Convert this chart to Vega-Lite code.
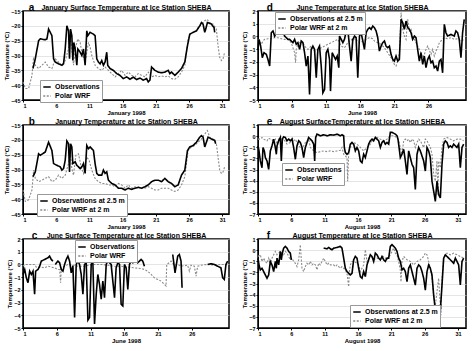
{
"$schema":"https://vega.github.io/schema/vega-lite/v6.json",
"background":"white",
"padding":{"left":2,"top":2,"right":2,"bottom":0},
"bounds":"flush",
"columns":2,
"spacing":{"row":25,"column":29},
"config":{
 "font":"Liberation Sans",
 "view":{"stroke":"black","strokeWidth":1.5},
 "axis":{"labelFont":"Liberation Sans","labelFontWeight":"bold","labelFontSize":5.5,"labelColor":"black","titleFont":"Liberation Sans","titleFontSize":6,"titleFontWeight":"bold","titleColor":"black","domainColor":"black","tickColor":"black","tickSize":2,"labelPadding":1,"titlePadding":1,"gridColor":"#d4d4d4","gridWidth":0.6,"labelOverlap":false},
 "axisX":{"grid":false},
 "legend":{"orient":"none","title":null,"strokeColor":"#999999","fillColor":"white","padding":2,"labelFont":"Liberation Sans","labelFontSize":7,"labelFontWeight":"bold","labelColor":"black","symbolType":"stroke","symbolSize":56,"symbolStrokeWidth":1.6,"rowPadding":0,"labelOffset":3,"cornerRadius":0},
 "title":{"font":"Liberation Sans","fontSize":10,"fontWeight":"bold","anchor":"start","color":"black","dx":25,"dy":14,"offset":0}
},
"resolve":{"scale":{"x":"independent","y":"independent","color":"independent","strokeDash":"independent"},"legend":{"color":"independent","strokeDash":"independent"},"axis":{"x":"independent","y":"independent"}},
"datasets":{
"aO":[{"d":2.5,"t":-34.4},{"d":2.85,"t":-31.1},{"d":3.35,"t":-25.0},{"d":3.6,"t":-24.4},{"d":4.35,"t":-24.7},{"d":4.6,"t":-24.4},{"d":4.85,"t":-21.1},{"d":5.35,"t":-23.3},{"d":5.6,"t":-31.1},{"d":5.85,"t":-32.2},{"d":6.35,"t":-32.8},{"d":6.85,"t":-33.3},{"d":7.1,"t":-32.8},{"d":7.35,"t":-27.8},{"d":7.6,"t":-20.0},{"d":7.85,"t":-21.7},{"d":8.0,"t":-31.1},{"d":8.15,"t":-21.1},{"d":8.35,"t":-23.3},{"d":8.5,"t":-31.7},{"d":8.65,"t":-25.6},{"d":8.85,"t":-27.8},{"d":9.1,"t":-33.3},{"d":9.25,"t":-27.8},{"d":9.6,"t":-28.9},{"d":9.85,"t":-30.0},{"d":10.1,"t":-27.8},{"d":10.35,"t":-33.3},{"d":10.6,"t":-21.7},{"d":10.75,"t":-23.3},{"d":11.1,"t":-22.2},{"d":11.6,"t":-22.8},{"d":11.85,"t":-23.3},{"d":12.1,"t":-31.1},{"d":12.35,"t":-32.2},{"d":12.6,"t":-32.8},{"d":12.85,"t":-31.7},{"d":13.1,"t":-33.3},{"d":13.35,"t":-32.2},{"d":13.6,"t":-28.9},{"d":13.75,"t":-33.3},{"d":14.1,"t":-34.4},{"d":14.6,"t":-35.0},{"d":15.1,"t":-36.1},{"d":15.6,"t":-36.7},{"d":16.1,"t":-37.8},{"d":16.6,"t":-37.2},{"d":17.1,"t":-38.0},{"d":17.6,"t":-37.3},{"d":18.1,"t":-38.1},{"d":18.6,"t":-37.6},{"d":19.1,"t":-38.3},{"d":19.6,"t":-37.8},{"d":19.85,"t":-38.9},{"d":20.1,"t":-38.3},{"d":20.35,"t":-33.9},{"d":20.85,"t":-35.0},{"d":21.35,"t":-35.6},{"d":21.85,"t":-35.8},{"d":22.35,"t":-35.6},{"d":22.85,"t":-35.0},{"d":23.1,"t":-36.1},{"d":23.35,"t":-35.6},{"d":23.85,"t":-36.7},{"d":24.35,"t":-35.6},{"d":24.85,"t":-34.4},{"d":25.35,"t":-32.2},{"d":25.75,"t":-26.7},{"d":26.1,"t":-22.8},{"d":26.6,"t":-22.2},{"d":27.1,"t":-21.7},{"d":27.6,"t":-20.0},{"d":27.85,"t":-18.9},{"d":28.1,"t":-19.4},{"d":28.35,"t":-22.2},{"d":28.5,"t":-21.1},{"d":28.75,"t":-18.9},{"d":29.1,"t":-19.1},{"d":29.35,"t":-19.4},{"d":29.75,"t":-20.6},{"d":29.85,"t":-22.2}],
"aW":[{"d":1.0,"t":-38.9},{"d":1.35,"t":-41.1},{"d":1.85,"t":-41.1},{"d":2.35,"t":-36.7},{"d":2.6,"t":-30.6},{"d":2.85,"t":-33.3},{"d":3.35,"t":-34.4},{"d":3.85,"t":-33.3},{"d":4.35,"t":-32.2},{"d":4.85,"t":-33.9},{"d":5.35,"t":-34.4},{"d":5.85,"t":-31.1},{"d":6.35,"t":-32.2},{"d":6.85,"t":-33.3},{"d":7.35,"t":-31.7},{"d":7.85,"t":-27.8},{"d":8.1,"t":-23.3},{"d":8.35,"t":-27.8},{"d":8.6,"t":-33.3},{"d":8.85,"t":-27.8},{"d":9.25,"t":-24.4},{"d":9.6,"t":-25.6},{"d":9.85,"t":-28.9},{"d":10.35,"t":-32.2},{"d":10.85,"t":-25.6},{"d":11.1,"t":-27.2},{"d":11.35,"t":-30.0},{"d":11.85,"t":-33.3},{"d":12.35,"t":-34.4},{"d":12.85,"t":-35.0},{"d":13.35,"t":-33.9},{"d":13.85,"t":-35.0},{"d":14.35,"t":-36.1},{"d":14.85,"t":-37.2},{"d":15.35,"t":-36.1},{"d":15.85,"t":-35.0},{"d":16.35,"t":-36.7},{"d":16.85,"t":-35.6},{"d":17.35,"t":-36.7},{"d":17.85,"t":-37.2},{"d":18.35,"t":-36.1},{"d":18.85,"t":-36.7},{"d":19.35,"t":-37.2},{"d":19.85,"t":-35.6},{"d":20.35,"t":-37.2},{"d":20.85,"t":-36.7},{"d":21.35,"t":-37.2},{"d":21.85,"t":-36.9},{"d":22.35,"t":-37.2},{"d":22.85,"t":-36.9},{"d":23.35,"t":-37.8},{"d":23.85,"t":-38.0},{"d":24.35,"t":-37.2},{"d":24.85,"t":-35.6},{"d":25.35,"t":-33.3},{"d":25.85,"t":-24.4},{"d":26.35,"t":-22.2},{"d":26.85,"t":-22.2},{"d":27.35,"t":-20.6},{"d":27.85,"t":-19.4},{"d":28.35,"t":-18.3},{"d":28.75,"t":-17.8},{"d":29.1,"t":-19.4},{"d":29.6,"t":-19.4},{"d":30.1,"t":-21.1},{"d":30.35,"t":-26.7},{"d":30.6,"t":-30.6},{"d":30.85,"t":-31.7},{"d":31.1,"t":-31.1},{"d":31.35,"t":-28.9}],
"bO":[{"d":2.5,"t":-32.4},{"d":2.85,"t":-30.8},{"d":3.35,"t":-24.7},{"d":3.6,"t":-25.2},{"d":4.35,"t":-24.1},{"d":4.85,"t":-20.8},{"d":5.35,"t":-23.6},{"d":5.6,"t":-28.0},{"d":6.1,"t":-28.6},{"d":6.6,"t":-29.1},{"d":6.85,"t":-30.2},{"d":7.1,"t":-29.7},{"d":7.35,"t":-26.9},{"d":7.6,"t":-20.4},{"d":7.85,"t":-21.3},{"d":8.0,"t":-30.8},{"d":8.15,"t":-21.3},{"d":8.35,"t":-22.4},{"d":8.5,"t":-28.0},{"d":8.85,"t":-27.4},{"d":9.1,"t":-28.6},{"d":9.35,"t":-29.1},{"d":9.6,"t":-29.7},{"d":9.85,"t":-29.1},{"d":10.1,"t":-28.0},{"d":10.35,"t":-31.3},{"d":10.6,"t":-21.9},{"d":10.85,"t":-23.0},{"d":11.1,"t":-22.4},{"d":11.6,"t":-23.6},{"d":11.85,"t":-28.0},{"d":12.1,"t":-31.3},{"d":12.35,"t":-31.9},{"d":12.85,"t":-31.9},{"d":13.1,"t":-30.2},{"d":13.35,"t":-31.3},{"d":13.6,"t":-30.8},{"d":13.85,"t":-33.6},{"d":14.35,"t":-34.7},{"d":14.85,"t":-35.2},{"d":15.35,"t":-36.3},{"d":15.85,"t":-36.3},{"d":16.35,"t":-36.9},{"d":16.85,"t":-36.3},{"d":17.35,"t":-36.7},{"d":17.85,"t":-36.3},{"d":18.35,"t":-36.0},{"d":18.85,"t":-36.3},{"d":19.35,"t":-35.8},{"d":19.85,"t":-35.2},{"d":20.35,"t":-34.1},{"d":20.85,"t":-33.6},{"d":21.35,"t":-33.6},{"d":21.85,"t":-34.1},{"d":22.35,"t":-33.0},{"d":22.85,"t":-34.1},{"d":23.35,"t":-34.7},{"d":23.85,"t":-35.8},{"d":24.35,"t":-35.2},{"d":24.85,"t":-31.9},{"d":25.35,"t":-30.2},{"d":25.75,"t":-23.6},{"d":26.1,"t":-22.4},{"d":26.6,"t":-21.9},{"d":27.1,"t":-20.8},{"d":27.6,"t":-19.1},{"d":27.85,"t":-18.6},{"d":28.1,"t":-19.1},{"d":28.35,"t":-22.4},{"d":28.6,"t":-20.8},{"d":28.85,"t":-19.1},{"d":29.35,"t":-19.7},{"d":29.85,"t":-20.2},{"d":30.0,"t":-21.3}],
"bW":[{"d":1.0,"t":-36.9},{"d":1.35,"t":-40.8},{"d":1.85,"t":-40.2},{"d":2.35,"t":-36.9},{"d":2.6,"t":-30.2},{"d":2.85,"t":-33.0},{"d":3.35,"t":-34.1},{"d":3.85,"t":-33.6},{"d":4.35,"t":-33.0},{"d":4.85,"t":-32.4},{"d":5.35,"t":-34.1},{"d":5.85,"t":-33.6},{"d":6.35,"t":-31.9},{"d":6.85,"t":-33.0},{"d":7.35,"t":-31.9},{"d":7.85,"t":-28.0},{"d":8.1,"t":-24.1},{"d":8.35,"t":-29.7},{"d":8.6,"t":-31.9},{"d":8.95,"t":-25.2},{"d":9.35,"t":-24.7},{"d":9.75,"t":-29.1},{"d":10.1,"t":-31.3},{"d":10.6,"t":-25.8},{"d":10.95,"t":-26.9},{"d":11.35,"t":-30.2},{"d":11.85,"t":-33.0},{"d":12.35,"t":-34.1},{"d":12.85,"t":-34.7},{"d":13.35,"t":-34.7},{"d":13.85,"t":-35.2},{"d":14.35,"t":-35.2},{"d":14.85,"t":-35.8},{"d":15.35,"t":-34.7},{"d":15.85,"t":-35.2},{"d":16.35,"t":-36.3},{"d":16.85,"t":-35.2},{"d":17.35,"t":-36.3},{"d":17.85,"t":-35.8},{"d":18.35,"t":-36.0},{"d":18.85,"t":-36.3},{"d":19.35,"t":-36.3},{"d":19.85,"t":-35.8},{"d":20.35,"t":-36.3},{"d":20.85,"t":-36.9},{"d":21.35,"t":-36.9},{"d":21.85,"t":-36.3},{"d":22.35,"t":-36.3},{"d":22.85,"t":-36.3},{"d":23.35,"t":-36.9},{"d":23.85,"t":-37.4},{"d":24.35,"t":-36.9},{"d":24.85,"t":-35.2},{"d":25.35,"t":-32.4},{"d":25.85,"t":-23.6},{"d":26.35,"t":-22.4},{"d":26.85,"t":-21.9},{"d":27.35,"t":-20.8},{"d":27.85,"t":-19.7},{"d":28.35,"t":-18.0},{"d":28.75,"t":-16.9},{"d":29.1,"t":-19.1},{"d":29.6,"t":-19.7},{"d":30.1,"t":-21.3},{"d":30.35,"t":-25.8},{"d":30.6,"t":-30.2},{"d":30.85,"t":-31.3},{"d":31.1,"t":-30.8},{"d":31.35,"t":-29.1}],
"cO":[{"d":1.0,"t":-0.79},{"d":1.25,"t":-0.4},{"d":1.49,"t":-1.05},{"d":1.74,"t":-1.44},{"d":1.99,"t":-0.53},{"d":2.23,"t":-0.79},{"d":2.48,"t":-0.53},{"d":2.72,"t":-2.35},{"d":2.87,"t":-0.53},{"d":3.22,"t":-0.4},{"d":3.46,"t":-0.14},{"d":3.71,"t":0.26},{"d":4.2,"t":0.39},{"d":4.69,"t":0.52},{"d":4.94,"t":0.65},{"d":5.19,"t":0.39},{"d":5.43,"t":0.26},{"d":5.6,"t":null},{"d":5.78,"t":0.0},{"d":6.17,"t":0.26},{"d":6.42,"t":0.13},{"d":6.67,"t":-0.4},{"d":6.91,"t":-0.53},{"d":7.16,"t":0.0},{"d":7.4,"t":0.39},{"d":7.65,"t":0.65},{"d":7.9,"t":0.26},{"d":8.14,"t":-0.66},{"d":8.39,"t":-0.1},{"d":8.64,"t":-4.17},{"d":8.88,"t":0.0},{"d":9.13,"t":0.26},{"d":9.37,"t":0.0},{"d":9.62,"t":-0.79},{"d":9.87,"t":-2.35},{"d":10.11,"t":0.0},{"d":10.36,"t":0.13},{"d":10.61,"t":-4.38},{"d":10.85,"t":-4.17},{"d":11.1,"t":0.0},{"d":11.34,"t":0.26},{"d":11.59,"t":-4.69},{"d":11.84,"t":-2.35},{"d":12.08,"t":-0.79},{"d":12.33,"t":-1.57},{"d":12.58,"t":-2.74},{"d":12.82,"t":-1.31},{"d":13.07,"t":-2.61},{"d":13.32,"t":0.0},{"d":13.56,"t":0.26},{"d":13.81,"t":0.13},{"d":14.05,"t":0.0},{"d":14.55,"t":-2.61},{"d":14.79,"t":-0.27},{"d":15.04,"t":0.13},{"d":15.29,"t":0.0},{"d":15.53,"t":-3.13},{"d":15.78,"t":-3.26},{"d":16.02,"t":0.0},{"d":16.27,"t":-0.27},{"d":16.52,"t":-1.96},{"d":16.76,"t":0.0},{"d":17.01,"t":0.26},{"d":17.26,"t":0.13},{"d":17.5,"t":0.31},{"d":17.75,"t":0.26},{"d":17.99,"t":0.13},{"d":18.49,"t":0.39},{"d":18.73,"t":0.26},{"d":18.98,"t":-0.14},{"d":19.2,"t":null},{"d":23.17,"t":0.78},{"d":23.51,"t":-0.66},{"d":23.91,"t":0.65},{"d":24.15,"t":0.78},{"d":24.4,"t":0.26},{"d":24.55,"t":-1.83},{"d":24.7,"t":null},{"d":28.34,"t":0.0},{"d":28.83,"t":0.05},{"d":29.33,"t":0.0},{"d":29.82,"t":-0.14},{"d":30.31,"t":-0.27},{"d":30.56,"t":-1.05},{"d":30.8,"t":-1.18},{"d":31.05,"t":0.0},{"d":31.3,"t":0.26}],
"cW":[{"d":1.0,"t":-0.14},{"d":1.25,"t":0.0},{"d":1.74,"t":0.0},{"d":2.23,"t":0.0},{"d":2.72,"t":0.0},{"d":2.97,"t":-0.21},{"d":3.71,"t":-0.21},{"d":4.2,"t":-0.27},{"d":4.69,"t":-0.14},{"d":5.19,"t":-0.21},{"d":5.68,"t":-0.27},{"d":6.17,"t":-0.4},{"d":6.42,"t":-0.4},{"d":6.57,"t":-1.44},{"d":6.67,"t":-0.27},{"d":7.16,"t":-0.14},{"d":7.65,"t":0.0},{"d":8.14,"t":-0.06},{"d":8.64,"t":-0.06},{"d":9.13,"t":-0.14},{"d":10.11,"t":-0.14},{"d":11.1,"t":0.0},{"d":12.58,"t":0.0},{"d":13.56,"t":-0.06},{"d":14.55,"t":-0.14},{"d":15.53,"t":-0.14},{"d":16.52,"t":-0.21},{"d":17.5,"t":-0.27},{"d":18.49,"t":-0.32},{"d":18.98,"t":-0.4},{"d":19.47,"t":-0.53},{"d":19.97,"t":-0.79},{"d":20.46,"t":-1.05},{"d":20.95,"t":-1.18},{"d":21.44,"t":-1.31},{"d":21.94,"t":-1.57},{"d":22.18,"t":-1.7},{"d":22.28,"t":0.0},{"d":22.43,"t":0.05},{"d":22.92,"t":0.26},{"d":23.41,"t":-0.06},{"d":23.91,"t":0.0},{"d":24.4,"t":-0.14},{"d":25.38,"t":-0.06},{"d":25.63,"t":-0.53},{"d":25.88,"t":-0.06},{"d":26.37,"t":-0.14},{"d":26.62,"t":-0.92},{"d":26.86,"t":-0.14},{"d":27.35,"t":-0.06},{"d":28.34,"t":0.0},{"d":29.33,"t":-0.06},{"d":30.31,"t":0.0},{"d":31.3,"t":0.0}],
"dO":[{"d":1.0,"t":-1.02},{"d":1.15,"t":-0.23},{"d":1.39,"t":-0.76},{"d":1.63,"t":-1.67},{"d":1.88,"t":-1.28},{"d":2.22,"t":-1.41},{"d":2.46,"t":-1.81},{"d":2.71,"t":-2.33},{"d":2.95,"t":0.29},{"d":3.2,"t":0.43},{"d":3.44,"t":0.03},{"d":3.68,"t":0.29},{"d":3.93,"t":0.56},{"d":4.17,"t":0.61},{"d":4.41,"t":0.29},{"d":4.66,"t":0.43},{"d":4.9,"t":0.03},{"d":5.15,"t":-0.1},{"d":5.39,"t":-0.23},{"d":5.63,"t":-0.23},{"d":5.88,"t":-0.36},{"d":6.12,"t":-0.49},{"d":6.37,"t":-0.23},{"d":6.61,"t":-0.62},{"d":6.85,"t":-0.49},{"d":7.1,"t":-1.02},{"d":7.34,"t":-0.36},{"d":7.59,"t":-0.49},{"d":7.83,"t":-1.28},{"d":8.07,"t":-2.33},{"d":8.32,"t":-1.54},{"d":8.56,"t":-4.56},{"d":8.8,"t":-1.02},{"d":9.05,"t":-0.76},{"d":9.29,"t":-1.02},{"d":9.54,"t":-3.25},{"d":9.78,"t":-1.02},{"d":10.02,"t":-0.76},{"d":10.27,"t":-2.33},{"d":10.51,"t":-4.43},{"d":10.76,"t":-4.17},{"d":11.0,"t":-1.28},{"d":11.24,"t":-1.02},{"d":11.49,"t":-1.81},{"d":11.63,"t":-4.3},{"d":11.88,"t":-1.28},{"d":12.12,"t":-1.54},{"d":12.37,"t":-1.81},{"d":12.61,"t":-1.54},{"d":12.85,"t":-2.46},{"d":12.95,"t":0.03},{"d":13.2,"t":-0.23},{"d":13.44,"t":-0.49},{"d":13.68,"t":-0.23},{"d":13.93,"t":0.43},{"d":14.17,"t":0.56},{"d":14.41,"t":-0.76},{"d":14.66,"t":-1.94},{"d":14.9,"t":-0.23},{"d":15.15,"t":0.03},{"d":15.39,"t":-0.1},{"d":15.63,"t":-3.25},{"d":15.88,"t":0.03},{"d":16.12,"t":0.29},{"d":16.37,"t":-0.36},{"d":16.61,"t":-1.02},{"d":16.85,"t":0.29},{"d":17.1,"t":0.56},{"d":17.34,"t":0.69},{"d":17.59,"t":0.56},{"d":17.83,"t":0.82},{"d":18.07,"t":0.69},{"d":18.32,"t":0.43},{"d":18.56,"t":-0.1},{"d":18.8,"t":-1.15},{"d":19.05,"t":-0.76},{"d":19.29,"t":-0.49},{"d":19.54,"t":-0.36},{"d":19.78,"t":-0.76},{"d":20.02,"t":-0.89},{"d":20.27,"t":-0.76},{"d":20.51,"t":-1.41},{"d":20.76,"t":-1.81},{"d":21.0,"t":-1.94},{"d":21.24,"t":-1.54},{"d":21.49,"t":-1.94},{"d":21.73,"t":-1.81},{"d":21.98,"t":1.34},{"d":22.22,"t":1.08},{"d":22.46,"t":0.56},{"d":22.71,"t":1.21},{"d":22.95,"t":0.69},{"d":23.2,"t":0.56},{"d":23.44,"t":0.29},{"d":23.68,"t":-0.23},{"d":23.93,"t":0.03},{"d":24.17,"t":-0.1},{"d":24.41,"t":-1.02},{"d":24.66,"t":-1.94},{"d":24.9,"t":-1.28},{"d":25.15,"t":-2.2},{"d":25.39,"t":-1.54},{"d":25.63,"t":-2.46},{"d":25.88,"t":-1.81},{"d":26.12,"t":-1.54},{"d":26.37,"t":-2.07},{"d":26.61,"t":-1.94},{"d":26.85,"t":-2.46},{"d":27.1,"t":-2.33},{"d":27.34,"t":-2.72},{"d":27.59,"t":-1.94},{"d":27.83,"t":-1.81},{"d":28.07,"t":-2.86},{"d":28.32,"t":0.95},{"d":28.56,"t":0.29},{"d":28.8,"t":0.03},{"d":29.29,"t":0.16},{"d":29.78,"t":0.03},{"d":30.02,"t":0.43},{"d":30.27,"t":0.29},{"d":30.51,"t":-0.23},{"d":30.76,"t":-1.67},{"d":31.0,"t":0.29},{"d":31.24,"t":1.34}],
"dW":[{"d":1.0,"t":-0.23},{"d":1.24,"t":-0.36},{"d":1.49,"t":-0.62},{"d":1.73,"t":-0.36},{"d":1.98,"t":-0.23},{"d":2.46,"t":-0.18},{"d":2.95,"t":-0.18},{"d":3.44,"t":-0.1},{"d":3.93,"t":-0.1},{"d":4.41,"t":-0.18},{"d":4.9,"t":-0.23},{"d":5.39,"t":-0.23},{"d":5.88,"t":-0.49},{"d":6.12,"t":-0.89},{"d":6.37,"t":-1.28},{"d":6.51,"t":-2.07},{"d":6.61,"t":-1.02},{"d":6.85,"t":-0.62},{"d":7.1,"t":-0.49},{"d":7.34,"t":-0.36},{"d":7.59,"t":-0.49},{"d":7.83,"t":-0.76},{"d":8.07,"t":-0.89},{"d":8.32,"t":-1.02},{"d":8.56,"t":-0.89},{"d":8.8,"t":-0.76},{"d":9.05,"t":-1.02},{"d":9.29,"t":-1.15},{"d":9.78,"t":-1.02},{"d":10.27,"t":-0.89},{"d":10.76,"t":-0.76},{"d":11.24,"t":-0.62},{"d":11.73,"t":-0.49},{"d":12.22,"t":-0.36},{"d":12.71,"t":-0.23},{"d":13.2,"t":-0.76},{"d":13.68,"t":-0.89},{"d":14.17,"t":-0.49},{"d":14.66,"t":-0.23},{"d":14.9,"t":-0.36},{"d":15.15,"t":-0.18},{"d":15.39,"t":-0.23},{"d":15.88,"t":-0.49},{"d":16.37,"t":-0.36},{"d":16.85,"t":-0.23},{"d":17.34,"t":-0.1},{"d":17.83,"t":-0.18},{"d":18.07,"t":-0.36},{"d":18.56,"t":-0.49},{"d":19.05,"t":-0.62},{"d":19.54,"t":-0.89},{"d":20.02,"t":-1.28},{"d":20.51,"t":-1.67},{"d":21.0,"t":-2.2},{"d":21.24,"t":-2.33},{"d":21.49,"t":-1.94},{"d":21.73,"t":-1.28},{"d":21.98,"t":1.87},{"d":22.22,"t":0.56},{"d":22.46,"t":0.03},{"d":22.71,"t":-0.23},{"d":22.95,"t":1.34},{"d":23.2,"t":0.43},{"d":23.44,"t":0.56},{"d":23.68,"t":-0.1},{"d":23.93,"t":-0.23},{"d":24.41,"t":-0.76},{"d":24.9,"t":-1.28},{"d":25.15,"t":-1.67},{"d":25.39,"t":-1.41},{"d":25.63,"t":-1.02},{"d":25.88,"t":-0.76},{"d":26.37,"t":-1.41},{"d":26.61,"t":-1.02},{"d":26.85,"t":-1.54},{"d":27.1,"t":-1.15},{"d":27.34,"t":-0.89},{"d":27.59,"t":-0.49},{"d":27.83,"t":-0.36},{"d":28.07,"t":-0.23},{"d":28.32,"t":-0.1},{"d":28.8,"t":-0.18},{"d":29.29,"t":-0.1},{"d":29.78,"t":-0.23},{"d":30.27,"t":-0.18},{"d":30.76,"t":-0.36},{"d":31.24,"t":-0.23}],
"eO":[{"d":1.0,"t":-0.87},{"d":1.15,"t":-1.33},{"d":1.35,"t":-2.23},{"d":1.6,"t":-2.84},{"d":1.75,"t":-1.02},{"d":1.95,"t":-1.33},{"d":2.1,"t":-1.93},{"d":2.35,"t":-2.23},{"d":2.6,"t":-2.99},{"d":2.85,"t":-1.33},{"d":3.1,"t":-0.87},{"d":3.35,"t":-0.27},{"d":3.6,"t":-1.02},{"d":3.75,"t":-1.63},{"d":3.85,"t":-0.87},{"d":4.1,"t":-0.42},{"d":4.35,"t":-0.12},{"d":4.5,"t":-2.23},{"d":4.65,"t":-0.27},{"d":4.85,"t":-0.06},{"d":5.1,"t":-0.12},{"d":5.35,"t":-0.42},{"d":5.6,"t":-0.27},{"d":5.85,"t":-0.42},{"d":6.1,"t":-0.27},{"d":6.35,"t":-1.02},{"d":6.6,"t":-2.08},{"d":6.85,"t":-0.87},{"d":7.1,"t":-0.42},{"d":7.35,"t":-0.57},{"d":7.6,"t":-1.02},{"d":7.85,"t":-1.93},{"d":8.1,"t":-1.02},{"d":8.35,"t":-0.57},{"d":8.6,"t":-0.12},{"d":8.85,"t":-0.27},{"d":9.1,"t":-0.42},{"d":9.35,"t":-0.72},{"d":9.5,"t":-2.23},{"d":9.65,"t":-0.12},{"d":9.85,"t":0.18},{"d":10.35,"t":0.03},{"d":10.85,"t":0.12},{"d":11.35,"t":0.03},{"d":11.85,"t":0.12},{"d":12.35,"t":0.09},{"d":12.85,"t":0.18},{"d":13.35,"t":0.03},{"d":13.6,"t":0.12},{"d":13.85,"t":0.03},{"d":13.95,"t":-1.02},{"d":14.1,"t":-1.48},{"d":14.35,"t":-1.63},{"d":14.6,"t":-1.48},{"d":14.85,"t":-0.72},{"d":15.1,"t":-0.57},{"d":15.35,"t":-0.72},{"d":15.6,"t":-1.33},{"d":15.85,"t":-1.02},{"d":16.1,"t":-1.33},{"d":16.35,"t":-2.23},{"d":16.6,"t":-2.38},{"d":16.85,"t":-1.63},{"d":17.1,"t":-1.93},{"d":17.35,"t":-1.33},{"d":17.6,"t":-0.72},{"d":17.85,"t":-0.42},{"d":18.1,"t":-0.27},{"d":18.35,"t":-0.42},{"d":18.6,"t":-0.12},{"d":18.85,"t":-0.27},{"d":19.1,"t":-0.42},{"d":19.35,"t":-1.02},{"d":19.6,"t":-0.57},{"d":19.85,"t":-0.42},{"d":20.1,"t":-0.72},{"d":20.35,"t":-0.57},{"d":20.6,"t":-0.72},{"d":20.85,"t":0.34},{"d":21.1,"t":0.34},{"d":21.6,"t":0.18},{"d":21.85,"t":0.03},{"d":22.0,"t":-0.27},{"d":22.35,"t":-1.93},{"d":22.6,"t":-1.63},{"d":22.85,"t":-1.18},{"d":23.1,"t":-2.23},{"d":23.35,"t":-3.44},{"d":23.6,"t":-1.33},{"d":23.85,"t":-1.93},{"d":24.1,"t":-2.53},{"d":24.35,"t":-2.84},{"d":24.6,"t":-4.8},{"d":24.85,"t":-1.63},{"d":25.1,"t":-1.02},{"d":25.35,"t":-1.33},{"d":25.6,"t":-1.78},{"d":25.85,"t":-2.23},{"d":26.1,"t":-3.14},{"d":26.35,"t":-1.02},{"d":26.6,"t":-1.33},{"d":26.85,"t":-1.93},{"d":27.1,"t":-4.05},{"d":27.35,"t":-4.95},{"d":27.6,"t":-5.86},{"d":27.85,"t":-4.05},{"d":28.1,"t":-5.25},{"d":28.35,"t":-5.56},{"d":28.6,"t":-2.53},{"d":28.85,"t":-0.72},{"d":29.1,"t":-0.42},{"d":29.35,"t":-0.57},{"d":29.6,"t":-1.02},{"d":29.85,"t":-0.87},{"d":30.1,"t":-1.02},{"d":30.35,"t":-0.72},{"d":30.6,"t":-0.87},{"d":30.85,"t":-1.02},{"d":31.1,"t":-0.72},{"d":31.35,"t":-2.84},{"d":31.6,"t":-1.02},{"d":31.85,"t":-0.72}],
"eW":[{"d":1.0,"t":-0.27},{"d":1.35,"t":-0.27},{"d":1.6,"t":-0.12},{"d":1.85,"t":-0.27},{"d":2.35,"t":-0.42},{"d":2.6,"t":-0.18},{"d":2.85,"t":-0.27},{"d":3.35,"t":-0.42},{"d":3.6,"t":-0.27},{"d":3.85,"t":-0.72},{"d":4.1,"t":-0.27},{"d":4.35,"t":-0.12},{"d":4.6,"t":-0.42},{"d":4.85,"t":-0.27},{"d":5.35,"t":-0.72},{"d":5.85,"t":-0.57},{"d":6.1,"t":-0.12},{"d":6.35,"t":-0.42},{"d":6.6,"t":-0.27},{"d":6.85,"t":-0.57},{"d":7.1,"t":-0.87},{"d":7.35,"t":-1.02},{"d":7.6,"t":-1.18},{"d":7.85,"t":-0.87},{"d":8.1,"t":-0.57},{"d":8.35,"t":-0.42},{"d":8.6,"t":-0.27},{"d":8.85,"t":-1.02},{"d":9.35,"t":-1.33},{"d":9.85,"t":-1.48},{"d":10.35,"t":-1.39},{"d":10.85,"t":-1.33},{"d":11.35,"t":-1.39},{"d":11.85,"t":-1.33},{"d":12.35,"t":-1.39},{"d":12.85,"t":-1.33},{"d":13.35,"t":-1.27},{"d":13.6,"t":-1.02},{"d":13.85,"t":-1.63},{"d":14.1,"t":-1.78},{"d":14.35,"t":-1.93},{"d":14.45,"t":-4.05},{"d":14.6,"t":-1.63},{"d":14.85,"t":-1.02},{"d":15.1,"t":-0.72},{"d":15.35,"t":-0.57},{"d":15.85,"t":-0.72},{"d":16.35,"t":-1.02},{"d":16.85,"t":-1.33},{"d":17.35,"t":-1.02},{"d":17.85,"t":-0.72},{"d":18.1,"t":-0.42},{"d":18.35,"t":-0.27},{"d":18.85,"t":-0.12},{"d":19.35,"t":-0.27},{"d":19.85,"t":-0.42},{"d":20.35,"t":-0.27},{"d":20.85,"t":0.03},{"d":21.35,"t":0.03},{"d":21.85,"t":-0.12},{"d":22.1,"t":-0.42},{"d":22.35,"t":-1.02},{"d":22.6,"t":-1.63},{"d":22.85,"t":-0.42},{"d":23.1,"t":-0.27},{"d":23.35,"t":-0.42},{"d":23.6,"t":-0.27},{"d":23.85,"t":-0.57},{"d":24.1,"t":-0.27},{"d":24.35,"t":-0.42},{"d":24.6,"t":-1.02},{"d":24.85,"t":-0.57},{"d":25.1,"t":-0.27},{"d":25.35,"t":-0.42},{"d":25.85,"t":-1.02},{"d":26.1,"t":-0.27},{"d":26.35,"t":-0.42},{"d":26.6,"t":-0.72},{"d":26.85,"t":-1.02},{"d":27.1,"t":-1.63},{"d":27.35,"t":-3.44},{"d":27.6,"t":-4.05},{"d":27.85,"t":-2.23},{"d":28.0,"t":-5.25},{"d":28.1,"t":-2.23},{"d":28.35,"t":-2.84},{"d":28.6,"t":-1.02},{"d":28.85,"t":-0.27},{"d":29.35,"t":-0.12},{"d":29.85,"t":-0.27},{"d":30.35,"t":-0.42},{"d":30.85,"t":-0.27},{"d":31.35,"t":-0.27},{"d":31.85,"t":-0.42}],
"fO":[{"d":1.0,"t":-0.72},{"d":1.15,"t":-1.33},{"d":1.35,"t":-1.78},{"d":1.6,"t":-1.63},{"d":1.85,"t":-1.93},{"d":2.1,"t":-2.23},{"d":2.35,"t":-2.53},{"d":2.6,"t":-2.23},{"d":2.85,"t":-1.02},{"d":3.1,"t":-1.33},{"d":3.35,"t":-1.93},{"d":3.6,"t":-1.02},{"d":3.75,"t":-1.63},{"d":3.85,"t":-0.72},{"d":4.1,"t":-1.33},{"d":4.35,"t":-0.12},{"d":4.5,"t":-0.87},{"d":4.65,"t":-0.27},{"d":4.85,"t":0.18},{"d":5.1,"t":0.34},{"d":5.35,"t":0.18},{"d":5.6,"t":-0.12},{"d":5.85,"t":-0.27},{"d":6.0,"t":-0.87},{"d":6.1,"t":null},{"d":10.85,"t":0.18},{"d":11.35,"t":0.12},{"d":11.6,"t":0.24},{"d":11.85,"t":0.12},{"d":12.1,"t":0.03},{"d":12.35,"t":0.18},{"d":12.85,"t":0.24},{"d":13.35,"t":0.34},{"d":13.6,"t":0.18},{"d":13.85,"t":-0.72},{"d":14.1,"t":-1.63},{"d":14.35,"t":-1.93},{"d":14.6,"t":-2.08},{"d":14.85,"t":-2.23},{"d":15.1,"t":-2.08},{"d":15.35,"t":-0.87},{"d":15.6,"t":-0.57},{"d":15.85,"t":-0.72},{"d":16.1,"t":-1.63},{"d":16.35,"t":-2.38},{"d":16.6,"t":-2.53},{"d":16.85,"t":-1.93},{"d":17.1,"t":-2.38},{"d":17.35,"t":-1.33},{"d":17.6,"t":-0.87},{"d":17.85,"t":-0.42},{"d":18.1,"t":-0.57},{"d":18.35,"t":-1.02},{"d":18.6,"t":-0.27},{"d":18.85,"t":-0.42},{"d":19.1,"t":-0.72},{"d":19.35,"t":-0.87},{"d":19.6,"t":-0.57},{"d":19.85,"t":-0.87},{"d":20.1,"t":-1.02},{"d":20.35,"t":-0.72},{"d":20.6,"t":-0.72},{"d":20.85,"t":0.34},{"d":21.1,"t":0.49},{"d":21.35,"t":0.34},{"d":21.6,"t":0.18},{"d":21.85,"t":-0.12},{"d":22.1,"t":-0.72},{"d":22.35,"t":-1.02},{"d":22.6,"t":-1.78},{"d":22.85,"t":-1.63},{"d":23.1,"t":-1.93},{"d":23.35,"t":-2.84},{"d":23.6,"t":-1.63},{"d":23.85,"t":-1.33},{"d":24.1,"t":-1.93},{"d":24.35,"t":-2.53},{"d":24.6,"t":-3.14},{"d":24.85,"t":-1.63},{"d":25.1,"t":-1.33},{"d":25.35,"t":-1.48},{"d":25.6,"t":-1.93},{"d":25.85,"t":-2.53},{"d":26.1,"t":-3.59},{"d":26.35,"t":-1.93},{"d":26.6,"t":-1.33},{"d":26.85,"t":-1.63},{"d":27.1,"t":-2.23},{"d":27.35,"t":-4.05},{"d":27.6,"t":-5.4},{"d":27.85,"t":-5.1},{"d":28.1,"t":-5.25},{"d":28.35,"t":-5.4},{"d":28.6,"t":-3.14},{"d":28.85,"t":-0.72},{"d":29.1,"t":-0.42},{"d":29.35,"t":-0.57},{"d":29.6,"t":-0.72},{"d":29.85,"t":-0.87},{"d":30.1,"t":-1.02},{"d":30.35,"t":-1.18},{"d":30.6,"t":-0.72},{"d":30.85,"t":-1.02},{"d":31.1,"t":-1.33},{"d":31.35,"t":-3.14},{"d":31.6,"t":-1.02},{"d":31.85,"t":-0.72}],
"fW":[{"d":1.0,"t":-0.57},{"d":1.35,"t":-0.42},{"d":1.6,"t":-1.02},{"d":1.85,"t":-0.72},{"d":2.1,"t":-1.02},{"d":2.35,"t":-1.18},{"d":2.6,"t":-0.72},{"d":2.85,"t":-1.33},{"d":3.1,"t":-0.72},{"d":3.35,"t":-0.42},{"d":3.6,"t":-0.12},{"d":3.85,"t":-0.42},{"d":4.1,"t":-0.27},{"d":4.35,"t":-0.12},{"d":4.6,"t":-0.27},{"d":4.85,"t":-0.42},{"d":5.1,"t":-0.12},{"d":5.35,"t":-0.27},{"d":5.6,"t":-0.57},{"d":5.85,"t":-0.87},{"d":6.1,"t":-0.72},{"d":6.35,"t":-1.02},{"d":6.6,"t":-1.18},{"d":6.85,"t":-1.48},{"d":7.1,"t":-0.87},{"d":7.35,"t":0.49},{"d":7.5,"t":-0.87},{"d":7.6,"t":-1.63},{"d":7.85,"t":-1.93},{"d":8.1,"t":-1.48},{"d":8.35,"t":-1.18},{"d":8.6,"t":-1.33},{"d":8.85,"t":-1.02},{"d":9.1,"t":-1.33},{"d":9.35,"t":-1.18},{"d":9.6,"t":-1.33},{"d":9.85,"t":-1.78},{"d":10.1,"t":-1.18},{"d":10.35,"t":-1.33},{"d":10.6,"t":-1.02},{"d":10.85,"t":-0.72},{"d":11.1,"t":-1.02},{"d":11.35,"t":-1.33},{"d":11.6,"t":-1.18},{"d":11.85,"t":-1.33},{"d":12.35,"t":-1.33},{"d":12.6,"t":-1.48},{"d":12.85,"t":-1.33},{"d":13.1,"t":-1.48},{"d":13.35,"t":-1.63},{"d":13.6,"t":-1.48},{"d":13.85,"t":-1.63},{"d":14.1,"t":-1.78},{"d":14.35,"t":-2.08},{"d":14.6,"t":-3.29},{"d":14.7,"t":-1.93},{"d":14.85,"t":-1.33},{"d":15.1,"t":-1.02},{"d":15.35,"t":-1.02},{"d":15.85,"t":-1.18},{"d":16.1,"t":-1.33},{"d":16.35,"t":-1.93},{"d":16.6,"t":-1.63},{"d":16.85,"t":-1.33},{"d":17.1,"t":0.03},{"d":17.35,"t":-1.02},{"d":17.6,"t":-0.72},{"d":17.85,"t":-0.42},{"d":18.35,"t":-0.87},{"d":18.85,"t":-0.72},{"d":19.35,"t":-0.87},{"d":19.85,"t":-0.57},{"d":20.35,"t":-0.87},{"d":20.85,"t":-0.42},{"d":21.35,"t":0.18},{"d":21.6,"t":-0.27},{"d":21.85,"t":-0.42},{"d":22.1,"t":-1.02},{"d":22.35,"t":-1.78},{"d":22.45,"t":-2.84},{"d":22.6,"t":-1.02},{"d":22.85,"t":-0.57},{"d":23.35,"t":-0.87},{"d":23.85,"t":-1.02},{"d":24.35,"t":-1.33},{"d":24.85,"t":-1.02},{"d":25.35,"t":-0.87},{"d":25.85,"t":-0.57},{"d":26.1,"t":-0.27},{"d":26.35,"t":-0.42},{"d":26.6,"t":-1.02},{"d":26.85,"t":-1.63},{"d":27.1,"t":-2.53},{"d":27.35,"t":-4.05},{"d":27.6,"t":-4.95},{"d":27.85,"t":-3.74},{"d":28.1,"t":-2.53},{"d":28.25,"t":-4.05},{"d":28.45,"t":-5.86},{"d":28.6,"t":-2.53},{"d":28.85,"t":-0.72},{"d":29.35,"t":-0.27},{"d":29.85,"t":-0.42},{"d":30.35,"t":-0.27},{"d":30.85,"t":-0.42},{"d":31.35,"t":-0.57},{"d":31.85,"t":-0.72}]
},
"concat":[
{"width":206,"height":89,"title":{"text":"a"},
 "layer":[
  {"data":{"name":"aW"},"mark":{"type":"line","strokeWidth":1.1,"invalid":"break-paths-show-domains"},
   "encoding":{"x":{"field":"d","type":"quantitative","scale":{"domain":[1,32],"nice":false,"zero":false},"axis":{"orient":"bottom","values":[1,6,11,16,21,26,31],"title":"January 1998"}},
    "y":{"field":"t","type":"quantitative","scale":{"domain":[-45,-15],"nice":false,"zero":false},"axis":{"values":[-45,-40,-35,-30,-25,-20,-15],"title":"Temperature (°C)"}},
    "color":{"datum":"Polar WRF","scale":{"domain":["Observations","Polar WRF"],"range":["black","#8a8a8a"]},"legend":{"legendX":17,"legendY":69}},
    "strokeDash":{"datum":"Polar WRF","scale":{"domain":["Observations","Polar WRF"],"range":[[1,0],[2,1.5]]},"legend":{"legendX":17,"legendY":69}}}},
  {"data":{"name":"aO"},"mark":{"type":"line","strokeWidth":1.6,"invalid":"break-paths-show-domains"},
   "encoding":{"x":{"field":"d","type":"quantitative","axis":{"orient":"top","labels":false,"ticks":false,"domain":false,"title":"January Surface Temperature at Ice Station SHEBA","titleFontSize":7,"titlePadding":1}},
    "y":{"field":"t","type":"quantitative","axis":{"values":[-45,-40,-35,-30,-25,-20,-15],"title":"Temperature (°C)"}},
    "color":{"datum":"Observations"},"strokeDash":{"datum":"Observations"}}}
 ],
 "resolve":{"axis":{"x":"independent"}}},
{"width":208,"height":89,"title":{"text":"d"},
 "layer":[
  {"data":{"name":"dW"},"mark":{"type":"line","strokeWidth":1.1,"invalid":"break-paths-show-domains"},
   "encoding":{"x":{"field":"d","type":"quantitative","scale":{"domain":[1,31.5],"nice":false,"zero":false},"axis":{"orient":"bottom","values":[1,6,11,16,21,26],"title":"June 1998"}},
    "y":{"field":"t","type":"quantitative","scale":{"domain":[-5,2],"nice":false,"zero":false},"axis":{"values":[-5,-4,-3,-2,-1,0,1,2],"title":"Temperature (°C)"}},
    "color":{"datum":"Polar WRF at 2 m","scale":{"domain":["Observations at 2.5 m","Polar WRF at 2 m"],"range":["black","#8a8a8a"]},"legend":{"legendX":17,"legendY":1}},
    "strokeDash":{"datum":"Polar WRF at 2 m","scale":{"domain":["Observations at 2.5 m","Polar WRF at 2 m"],"range":[[1,0],[2,1.5]]},"legend":{"legendX":17,"legendY":1}}}},
  {"data":{"name":"dO"},"mark":{"type":"line","strokeWidth":1.6,"invalid":"break-paths-show-domains"},
   "encoding":{"x":{"field":"d","type":"quantitative","axis":{"orient":"top","labels":false,"ticks":false,"domain":false,"title":"June Temperature at Ice Station SHEBA","titleFontSize":7,"titlePadding":1}},
    "y":{"field":"t","type":"quantitative","axis":{"values":[-5,-4,-3,-2,-1,0,1,2],"title":"Temperature (°C)"}},
    "color":{"datum":"Observations at 2.5 m"},"strokeDash":{"datum":"Observations at 2.5 m"}}}
 ],
 "resolve":{"axis":{"x":"independent"}}},
{"width":206,"height":89,"title":{"text":"b"},
 "layer":[
  {"data":{"name":"bW"},"mark":{"type":"line","strokeWidth":1.1,"invalid":"break-paths-show-domains"},
   "encoding":{"x":{"field":"d","type":"quantitative","scale":{"domain":[1,32],"nice":false,"zero":false},"axis":{"orient":"bottom","values":[1,6,11,16,21,26,31],"title":"January 1998"}},
    "y":{"field":"t","type":"quantitative","scale":{"domain":[-45,-15],"nice":false,"zero":false},"axis":{"values":[-45,-40,-35,-30,-25,-20,-15],"title":"Temperature (°C)"}},
    "color":{"datum":"Polar WRF at 2 m","scale":{"domain":["Observations at 2.5 m","Polar WRF at 2 m"],"range":["black","#8a8a8a"]},"legend":{"legendX":14,"legendY":69}},
    "strokeDash":{"datum":"Polar WRF at 2 m","scale":{"domain":["Observations at 2.5 m","Polar WRF at 2 m"],"range":[[1,0],[2,1.5]]},"legend":{"legendX":14,"legendY":69}}}},
  {"data":{"name":"bO"},"mark":{"type":"line","strokeWidth":1.6,"invalid":"break-paths-show-domains"},
   "encoding":{"x":{"field":"d","type":"quantitative","axis":{"orient":"top","labels":false,"ticks":false,"domain":false,"title":"January Temperature at Ice Station SHEBA","titleFontSize":7,"titlePadding":1}},
    "y":{"field":"t","type":"quantitative","axis":{"values":[-45,-40,-35,-30,-25,-20,-15],"title":"Temperature (°C)"}},
    "color":{"datum":"Observations at 2.5 m"},"strokeDash":{"datum":"Observations at 2.5 m"}}}
 ],
 "resolve":{"axis":{"x":"independent"}}},
{"width":208,"height":89,"title":{"text":"e"},
 "layer":[
  {"data":{"name":"eW"},"mark":{"type":"line","strokeWidth":1.1,"invalid":"break-paths-show-domains"},
   "encoding":{"x":{"field":"d","type":"quantitative","scale":{"domain":[1,32.2],"nice":false,"zero":false},"axis":{"orient":"bottom","values":[1,6,11,16,21,26,31],"title":"August 1998"}},
    "y":{"field":"t","type":"quantitative","scale":{"domain":[-7,1],"nice":false,"zero":false},"axis":{"values":[-7,-6,-5,-4,-3,-2,-1,0,1],"title":"Temperature (°C)"}},
    "color":{"datum":"Polar WRF","scale":{"domain":["Observations","Polar WRF"],"range":["black","#8a8a8a"]},"legend":{"legendX":24,"legendY":38}},
    "strokeDash":{"datum":"Polar WRF","scale":{"domain":["Observations","Polar WRF"],"range":[[1,0],[2,1.5]]},"legend":{"legendX":24,"legendY":38}}}},
  {"data":{"name":"eO"},"mark":{"type":"line","strokeWidth":1.6,"invalid":"break-paths-show-domains"},
   "encoding":{"x":{"field":"d","type":"quantitative","axis":{"orient":"top","labels":false,"ticks":false,"domain":false,"title":"August SurfaceTemperature at Ice Station SHEBA","titleFontSize":7,"titlePadding":1}},
    "y":{"field":"t","type":"quantitative","axis":{"values":[-7,-6,-5,-4,-3,-2,-1,0,1],"title":"Temperature (°C)"}},
    "color":{"datum":"Observations"},"strokeDash":{"datum":"Observations"}}}
 ],
 "resolve":{"axis":{"x":"independent"}}},
{"width":206,"height":89,"title":{"text":"c"},
 "layer":[
  {"data":{"name":"cW"},"mark":{"type":"line","strokeWidth":1.1,"invalid":"break-paths-show-domains"},
   "encoding":{"x":{"field":"d","type":"quantitative","scale":{"domain":[1,31.5],"nice":false,"zero":false},"axis":{"orient":"bottom","values":[1,6,11,16,21,26],"title":"June 1998"}},
    "y":{"field":"t","type":"quantitative","scale":{"domain":[-5,2],"nice":false,"zero":false},"axis":{"values":[-5,-4,-3,-2,-1,0,1,2],"title":"Temperature (°C)"}},
    "color":{"datum":"Polar WRF","scale":{"domain":["Observations","Polar WRF"],"range":["black","#8a8a8a"]},"legend":{"legendX":52,"legendY":1}},
    "strokeDash":{"datum":"Polar WRF","scale":{"domain":["Observations","Polar WRF"],"range":[[1,0],[2,1.5]]},"legend":{"legendX":52,"legendY":1}}}},
  {"data":{"name":"cO"},"mark":{"type":"line","strokeWidth":1.6,"invalid":"break-paths-show-domains"},
   "encoding":{"x":{"field":"d","type":"quantitative","axis":{"orient":"top","labels":false,"ticks":false,"domain":false,"title":"June Surface Temperature at Ice Station SHEBA","titleFontSize":7,"titlePadding":1}},
    "y":{"field":"t","type":"quantitative","axis":{"values":[-5,-4,-3,-2,-1,0,1,2],"title":"Temperature (°C)"}},
    "color":{"datum":"Observations"},"strokeDash":{"datum":"Observations"}}}
 ],
 "resolve":{"axis":{"x":"independent"}}},
{"width":208,"height":89,"title":{"text":"f"},
 "layer":[
  {"data":{"name":"fW"},"mark":{"type":"line","strokeWidth":1.1,"invalid":"break-paths-show-domains"},
   "encoding":{"x":{"field":"d","type":"quantitative","scale":{"domain":[1,32.2],"nice":false,"zero":false},"axis":{"orient":"bottom","values":[1,6,11,16,21,26,31],"title":"August 1998"}},
    "y":{"field":"t","type":"quantitative","scale":{"domain":[-7,1],"nice":false,"zero":false},"axis":{"values":[-7,-6,-5,-4,-3,-2,-1,0,1],"title":"Temperature (°C)"}},
    "color":{"datum":"Polar WRF at 2 m","scale":{"domain":["Observations at 2.5 m","Polar WRF at 2 m"],"range":["black","#8a8a8a"]},"legend":{"legendX":92,"legendY":66}},
    "strokeDash":{"datum":"Polar WRF at 2 m","scale":{"domain":["Observations at 2.5 m","Polar WRF at 2 m"],"range":[[1,0],[2,1.5]]},"legend":{"legendX":92,"legendY":66}}}},
  {"data":{"name":"fO"},"mark":{"type":"line","strokeWidth":1.6,"invalid":"break-paths-show-domains"},
   "encoding":{"x":{"field":"d","type":"quantitative","axis":{"orient":"top","labels":false,"ticks":false,"domain":false,"title":"August Temperature at Ice Station SHEBA","titleFontSize":7,"titlePadding":1}},
    "y":{"field":"t","type":"quantitative","axis":{"values":[-7,-6,-5,-4,-3,-2,-1,0,1],"title":"Temperature (°C)"}},
    "color":{"datum":"Observations at 2.5 m"},"strokeDash":{"datum":"Observations at 2.5 m"}}}
 ],
 "resolve":{"axis":{"x":"independent"}}}
]
}
